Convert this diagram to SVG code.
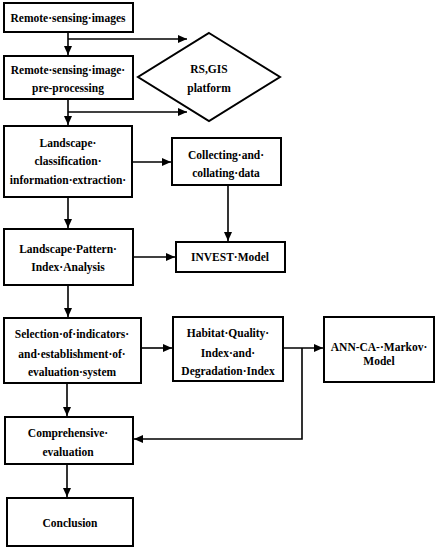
<svg xmlns="http://www.w3.org/2000/svg" width="436" height="550" viewBox="0 0 436 550">
<defs>
<marker id="ah" markerWidth="10" markerHeight="8" refX="9" refY="4" orient="auto" markerUnits="userSpaceOnUse">
<path d="M0,0 L9,4 L0,8 Z" fill="#000"/>
</marker>
<style>
rect,polygon{fill:#fff;stroke:#000;stroke-width:2}
text{font-family:"Liberation Serif","Times New Roman",serif;font-weight:bold;font-size:11.5px;text-anchor:middle;fill:#000}
.c{fill:none;stroke:#000;stroke-width:1.6}
</style>
</defs>
<rect x="0" y="0" width="436" height="550" style="fill:#fff;stroke:none"/>
<g id="connectors">
<path class="c" d="M68,32 V55" marker-end="url(#ah)"/>
<path class="c" d="M68,39 H187" marker-end="url(#ah)"/>
<path class="c" d="M68,99 V125" marker-end="url(#ah)"/>
<path class="c" d="M68,112 H187" marker-end="url(#ah)"/>
<path class="c" d="M132,162 H171" marker-end="url(#ah)"/>
<path class="c" d="M228,185 V241" marker-end="url(#ah)"/>
<path class="c" d="M68,197 V228" marker-end="url(#ah)"/>
<path class="c" d="M133,257 H175" marker-end="url(#ah)"/>
<path class="c" d="M68,285 V317" marker-end="url(#ah)"/>
<path class="c" d="M141,348 H172" marker-end="url(#ah)"/>
<path class="c" d="M283,348 H323" marker-end="url(#ah)"/>
<path class="c" d="M302,348 V439 H134" marker-end="url(#ah)"/>
<path class="c" d="M67,383 V416" marker-end="url(#ah)"/>
<path class="c" d="M67,464 V497" marker-end="url(#ah)"/>
</g>
<g id="n1"><rect x="4" y="3" width="129" height="29"/><text x="68" y="22">Remote·sensing·images</text></g>
<g id="n2"><rect x="4" y="56" width="129" height="43"/><text x="68" y="74">Remote·sensing·image·</text><text x="68" y="92">pre-processing</text></g>
<g id="n3"><polygon points="209,33 280,77 209,121 138,77"/><text x="209" y="73">RS,GIS</text><text x="209" y="92">platform</text></g>
<g id="n4"><rect x="4" y="126" width="128" height="71"/><text x="68" y="147">Landscape·</text><text x="68" y="165">classification·</text><text x="68" y="184">information·extraction·</text></g>
<g id="n5"><rect x="172" y="138" width="109" height="47"/><text x="226" y="159">Collecting·and·</text><text x="226" y="177">collating·data</text></g>
<g id="n6"><rect x="4" y="229" width="129" height="56"/><text x="68" y="253">Landscape·Pattern·</text><text x="68" y="271">Index·Analysis</text></g>
<g id="n7"><rect x="176" y="242" width="109" height="30"/><text x="230" y="261">INVEST·Model</text></g>
<g id="n8"><rect x="4" y="318" width="137" height="65"/><text x="72" y="338">Selection·of·indicators·</text><text x="72" y="358">and·establishment·of·</text><text x="72" y="376">evaluation·system</text></g>
<g id="n9"><rect x="173" y="317" width="110" height="64"/><text x="228" y="337">Habitat·Quality·</text><text x="228" y="357">Index·and·</text><text x="228" y="375">Degradation·Index</text></g>
<g id="n10"><rect x="324" y="317" width="110" height="65"/><text x="379" y="351">ANN-CA-·Markov·</text><text x="379" y="365">Model</text></g>
<g id="n11"><rect x="5" y="417" width="128" height="47"/><text x="68" y="437">Comprehensive·</text><text x="68" y="456">evaluation</text></g>
<g id="n12"><rect x="7" y="498" width="126" height="48"/><text x="70" y="527">Conclusion</text></g>
</svg>
